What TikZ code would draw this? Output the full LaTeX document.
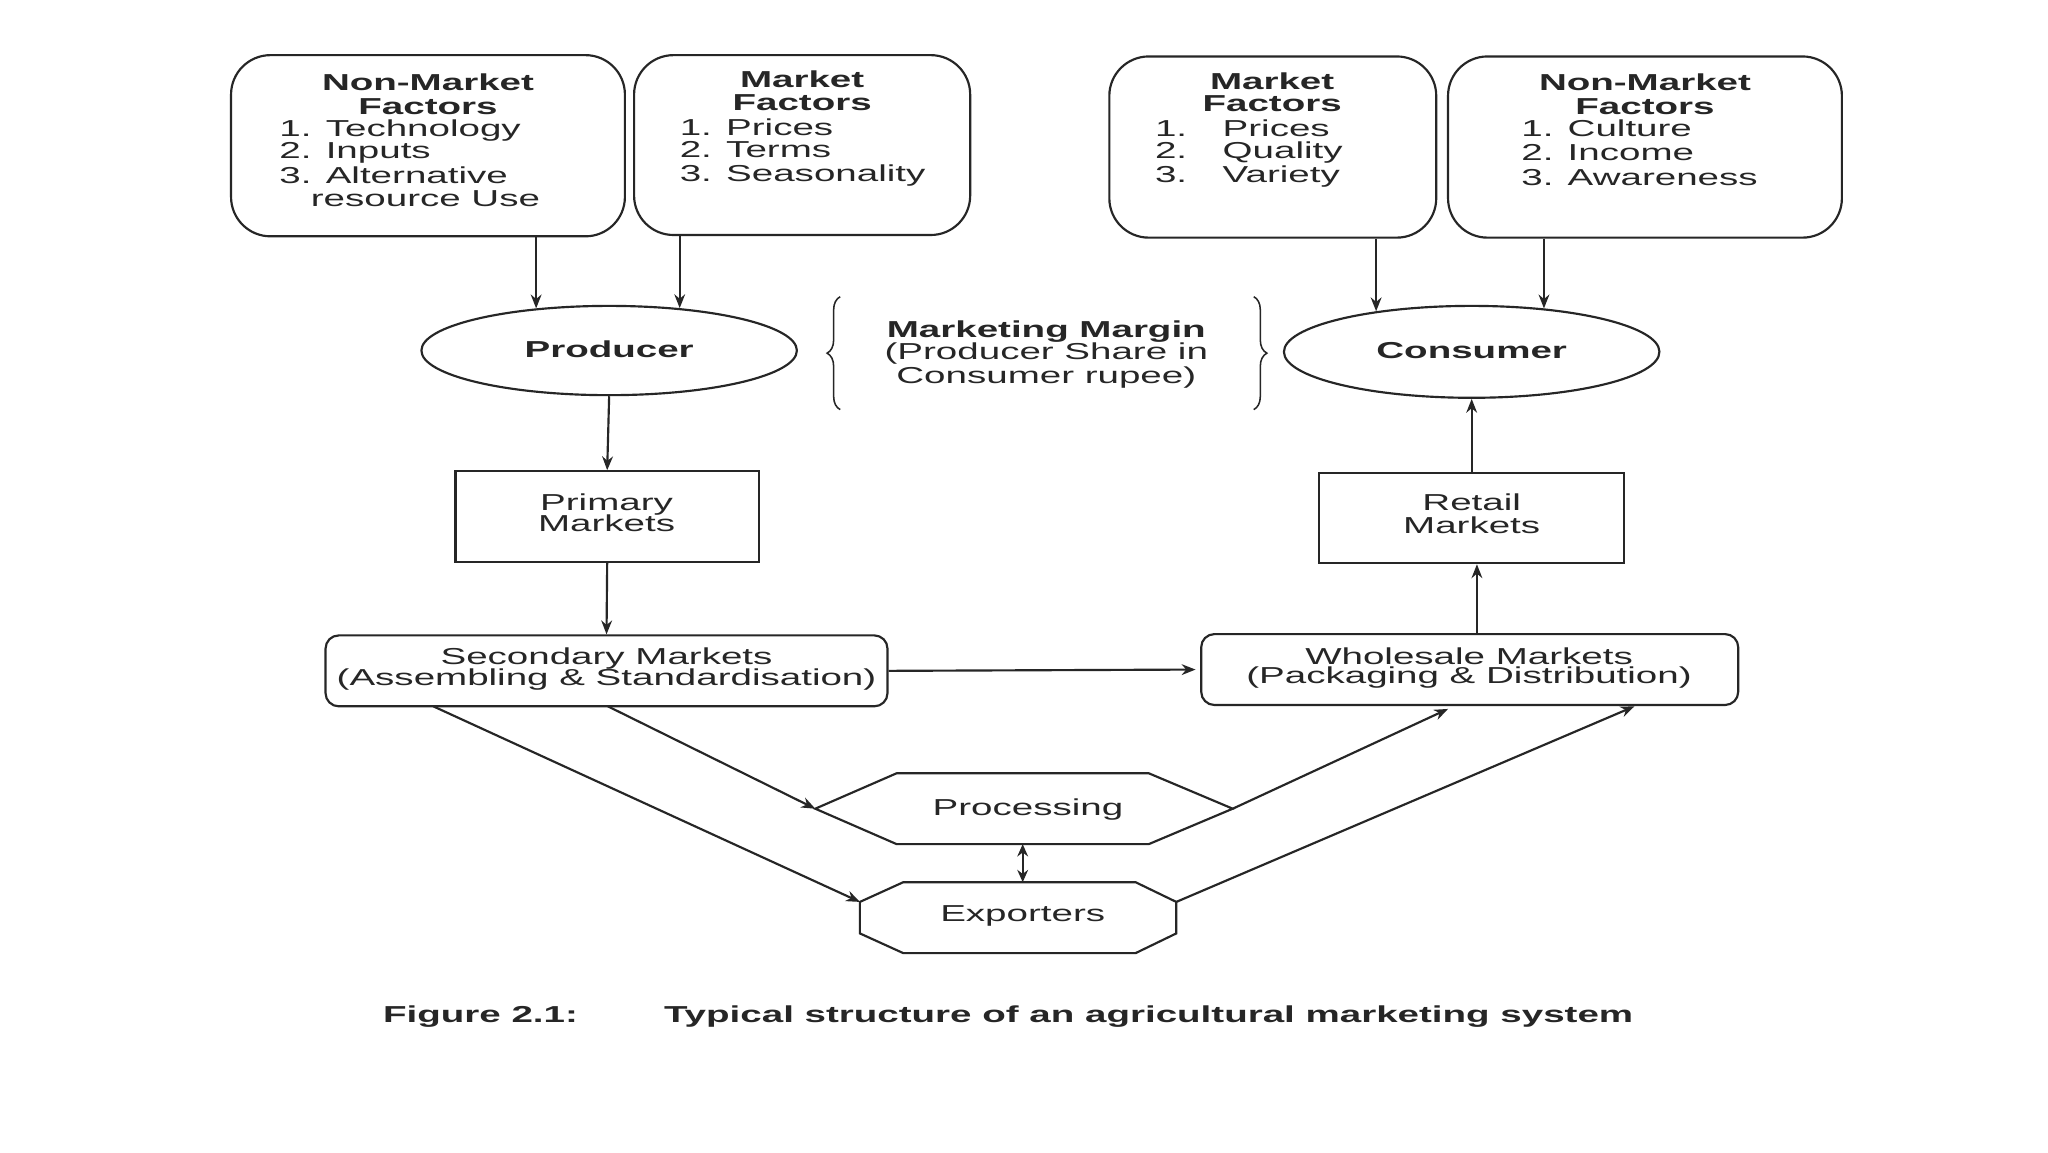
\documentclass[tikz,border=0pt]{standalone}
\usepackage{fontspec}
\setmainfont[FakeStretch=1.67]{Liberation Sans}
\usetikzlibrary{arrows.meta,decorations.pathreplacing,shapes.geometric}
\begin{document}
\begin{tikzpicture}[x=0.03cm,y=-0.03cm,
  line width=1.4pt, color=black!85,
  arr/.style={-{Stealth[length=9pt,width=7pt]}},
  darr/.style={{Stealth[length=8pt,width=7pt]}-{Stealth[length=8pt,width=7pt]}},
  big/.style={draw,rounded corners=0.9cm,inner sep=0pt},
  sq/.style={draw,inner sep=0pt},
  rbox/.style={draw,rounded corners=0.3cm,inner sep=0pt},
  ell/.style={draw,ellipse,inner sep=0pt},
  t/.style={inner sep=0pt,anchor=base west,font=\fontsize{15}{15.4}\selectfont},
  tc/.style={inner sep=0pt,anchor=base,font=\fontsize{15}{15.4}\selectfont},
  tb/.style={inner sep=0pt,anchor=base,font=\fontsize{15}{15.4}\selectfont\bfseries}]
\useasboundingbox[fill=white] (0,0) rectangle (1560,877.5);
% boxes
\node[big,minimum width=9cm,minimum height=4.14cm] (nm1) at (326,111) {};
\node[big,minimum width=7.68cm,minimum height=4.11cm] (mf1) at (611,110.5) {};
\node[big,minimum width=7.47cm,minimum height=4.14cm] (mf2) at (969.5,112) {};
\node[big,minimum width=9cm,minimum height=4.14cm] (nm2) at (1253,112) {};
% texts NM1
\node[tb] (a1) at (326,69) {Non-Market};
\node[tb] (a2) at (326,87) {Factors};
\node[t] (a3) at (212,104) {1. Technology};
\node[t] (a4) at (212,121) {2. Inputs};
\node[t] (a5) at (212,140) {3. Alternative};
\node[t] (a6) at (236,157) {resource Use};
% MF1
\node[tb] (b1) at (611,67) {Market};
\node[tb] (b2) at (611,84) {Factors};
\node[t] (b3) at (517,103) {1. Prices};
\node[t] (b4) at (517,120) {2. Terms};
\node[t] (b5) at (517,138) {3. Seasonality};
% MF2
\node[tb] (c1) at (969,68) {Market};
\node[tb] (c2) at (969,85) {Factors};
\node[t] (c3) at (879,104) {\makebox[44pt][l]{1.}Prices};
\node[t] (c4) at (879,121) {\makebox[44pt][l]{2.}Quality};
\node[t] (c5) at (879,139) {\makebox[44pt][l]{3.}Variety};
% NM2
\node[tb] (d1) at (1253,69) {Non-Market};
\node[tb] (d2) at (1253,87) {Factors};
\node[t] (d3) at (1158,104) {1. Culture};
\node[t] (d4) at (1158,122) {2. Income};
\node[t] (d5) at (1158,141) {3. Awareness};
% ellipses
\node[ell,minimum width=8.58cm,minimum height=2.04cm] (prod) at (464,267) {};
\node[tb] (pt) at (464,272) {Producer};
\node[ell,minimum width=8.58cm,minimum height=2.1cm] (cons) at (1121,268) {};
\node[tb] (ct) at (1121,273) {Consumer};
% margin
\node[tb] (m1) at (797,257) {Marketing Margin};
\node[tc] (m2) at (797,274) {(Producer Share in};
\node[tc] (m3) at (797,292) {Consumer rupee)};
\draw[line width=1pt,decorate,decoration={brace,amplitude=0.3cm}] (640,312) -- (640,226);
\draw[line width=1pt,decorate,decoration={brace,amplitude=0.3cm}] (955,226) -- (955,312);
% markets
\node[sq,minimum width=6.93cm,minimum height=2.07cm] (prim) at (462.5,393.5) {};
\node[tc] (p1) at (462,389) {Primary};
\node[tc] (p2) at (462,405) {Markets};
\node[sq,minimum width=6.96cm,minimum height=2.07cm] (ret) at (1121,394.5) {};
\node[tc] (r1) at (1121,389) {Retail};
\node[tc] (r2) at (1121,406) {Markets};
\node[rbox,minimum width=12.84cm,minimum height=1.62cm] (sec) at (462,511) {};
\node[tc] (s1t) at (462,506) {Secondary Markets};
\node[tc] (s2t) at (462,522) {(Assembling \& Standardisation)};
\node[rbox,minimum width=12.27cm,minimum height=1.62cm] (who) at (1119.5,510) {};
\node[tc] (w1t) at (1119,506) {Wholesale Markets};
\node[tc] (w2t) at (1119,521) {(Packaging \& Distribution)};
% processing hexagon
\coordinate (pl) at (621,616); \coordinate (pr) at (939,616);
\draw (pl) -- (683,589) -- (875,589) -- (pr) -- (875,643) -- (683,643) -- cycle;
\coordinate (pb) at (779,643);
\node[tc] (proc) at (783,621) {Processing};
% exporters octagon
\coordinate (el) at (655,687); \coordinate (er) at (896,687);
\draw (el) -- (688,672) -- (865,672) -- (er) -- (896,711) -- (865,726) -- (688,726) -- (655,711) -- cycle;
\coordinate (et) at (779,672);
\node[tc] (expo) at (779,702) {Exporters};
% connectors
\draw[arr] (nm1.south -| prod.150) -- (prod.150);
\draw[arr] (mf1.south -| prod.31) -- (prod.31);
\draw[arr] (mf2.south -| cons.157) -- (cons.157);
\draw[arr] (nm2.south -| cons.31) -- (cons.31);
\draw[arr] (prod.south) -- (prim.north);
\draw[arr] (prim.south) -- (sec.north);
\draw[arr,shorten >=3pt] (sec.east) -- (who.west);
\draw[arr] (who.north -| 1125,0) -- (ret.south -| 1125,0);
\draw[arr] (ret.north) -- (cons.south);
\coordinate (sa) at (330,538); \coordinate (sb) at (463,538);
\coordinate (wa) at (1103,540); \coordinate (wb) at (1245,538);
\draw[arr] (sa) -- (el);
\draw[arr] (sb) -- (pl);
\draw[arr] (pr) -- (wa);
\draw[arr] (er) -- (wb);
\draw[darr] (pb) -- (et);
% caption
\node[t,font=\fontsize{15}{15.4}\selectfont\bfseries] (f1) at (291,779) {Figure 2.1:};
\node[t,font=\fontsize{15}{15.4}\selectfont\bfseries] (f2) at (505,779) {Typical structure of an agricultural marketing system};
\end{tikzpicture}
\end{document}
